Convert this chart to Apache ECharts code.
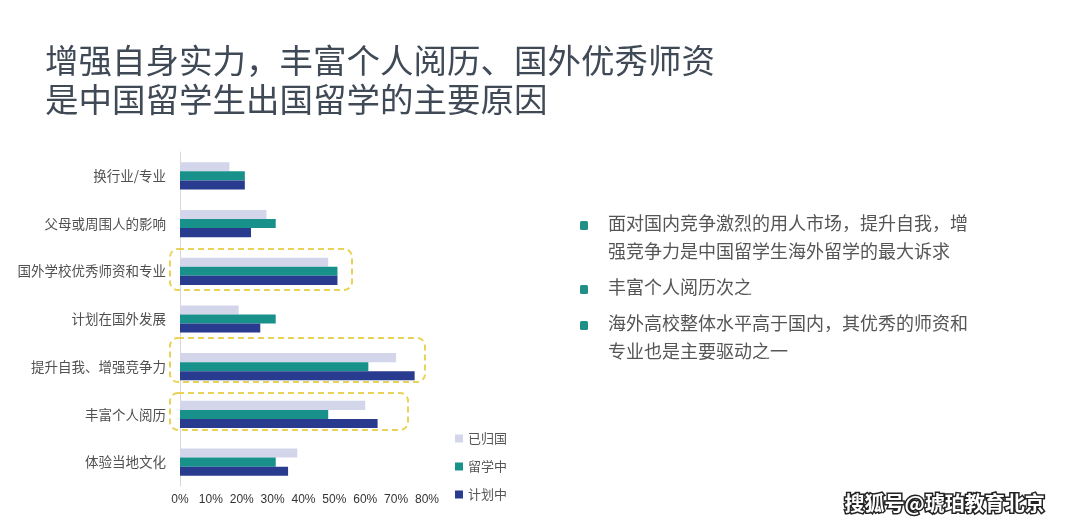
<!DOCTYPE html>
<html>
<head>
<meta charset="utf-8">
<script src="https://cdn.jsdelivr.net/npm/echarts@6/dist/echarts.min.js"></script>
<style>
html,body{margin:0;padding:0;background:#fff;}
#main{width:1080px;height:529px;}
</style>
</head>
<body>
<div id="main"></div>
<script>
// 数据
const categories = ['换行业/专业', '父母或周围人的影响', '国外学校优秀师资和专业', '计划在国外发展', '提升自我、增强竞争力', '丰富个人阅历', '体验当地文化']
const returned = [16, 28, 48, 19, 70, 60, 38]   // 已归国
const studying = [21, 31, 51, 31, 61, 48, 31]   // 留学中
const planning = [21, 23, 51, 26, 76, 64, 35]   // 计划中
const seriesNames = ['已归国', '留学中', '计划中']
const titleLines = ['增强自身实力，丰富个人阅历、国外优秀师资', '是中国留学生出国留学的主要原因']
const bullets = [
  ['面对国内竞争激烈的用人市场，提升自我，增', '强竞争力是中国留学生海外留学的最大诉求'],
  ['丰富个人阅历次之'],
  ['海外高校整体水平高于国内，其优秀的师资和', '专业也是主要驱动之一']
]

const font = '"Noto Sans CJK SC", "Noto Sans", sans-serif'
const colors = ['#d3d6eb', '#18918b', '#293b8f']

// 右侧要点文字
const bulletGraphics = []
let by = 225
bullets.forEach((lines) => {
  bulletGraphics.push({
    type: 'rect', left: 580, top: by - 4,
    shape: { width: 8, height: 9, r: 1.5 },
    style: { fill: '#1f8f88' }
  })
  lines.forEach((t) => {
    bulletGraphics.push({
      type: 'text', left: 608, top: by - 11,
      style: { text: t, fill: '#555', font: '18px ' + font }
    })
    by += 28
  })
  by += 8
})

// 黄色虚线框
const boxStyle = { fill: 'none', stroke: '#e8d257', lineWidth: 2, lineDash: [6, 4] }
const boxes = [
  { x: 170, y: 249, width: 182, height: 41 },
  { x: 170, y: 338, width: 255, height: 44 },
  { x: 170, y: 393, width: 238, height: 37 }
].map((b) => ({ type: 'rect', shape: Object.assign({ r: 8 }, b), style: boxStyle, z: 10 }))

const option = {
  backgroundColor: '#fff',
  textStyle: { fontFamily: font },
  title: {
    text: titleLines.join('\n'),
    left: 40,
    top: 36,
    textStyle: { fontSize: 33.5, fontWeight: 'normal', color: '#404a57', lineHeight: 39, fontFamily: font }
  },
  legend: {
    orient: 'vertical',
    left: 450,
    top: 427,
    icon: 'rect',
    itemWidth: 8,
    itemHeight: 8,
    itemGap: 15,
    data: seriesNames,
    textStyle: { fontSize: 13, color: '#555' }
  },
  grid: { left: 180, right: 653, top: 152, bottom: 43, containLabel: false },
  xAxis: {
    type: 'value',
    min: 0,
    max: 80,
    interval: 10,
    axisLine: { show: false },
    axisTick: { show: false },
    splitLine: { show: false },
    axisLabel: { formatter: '{value}%', color: '#333', fontSize: 12, margin: 8, fontFamily: 'Liberation Sans, Arial, sans-serif' }
  },
  yAxis: {
    type: 'category',
    inverse: true,
    data: categories,
    axisLine: { show: true, lineStyle: { color: '#d8d8d8' } },
    axisTick: { show: false },
    axisLabel: { color: '#505050', fontSize: 13.5, margin: 14 }
  },
  series: [
    { name: seriesNames[0], type: 'bar', data: returned, itemStyle: { color: colors[0] }, barGap: '0%', barCategoryGap: '43%' },
    { name: seriesNames[1], type: 'bar', data: studying, itemStyle: { color: colors[1] }, barGap: '0%', barCategoryGap: '43%' },
    { name: seriesNames[2], type: 'bar', data: planning, itemStyle: { color: colors[2] }, barGap: '0%', barCategoryGap: '43%' }
  ],
  graphic: bulletGraphics.concat(boxes).concat([
    {
      type: 'text', left: 843, top: 492,
      style: { text: '搜狐号@琥珀教育北京', fill: '#fff', stroke: '#222', lineWidth: 3, font: 'bold 20px ' + font }
    }
  ])
}

const chart = echarts.init(document.getElementById('main'))
chart.setOption(option)
window.addEventListener('resize', () => { chart.resize() })
</script>
</body>
</html>
